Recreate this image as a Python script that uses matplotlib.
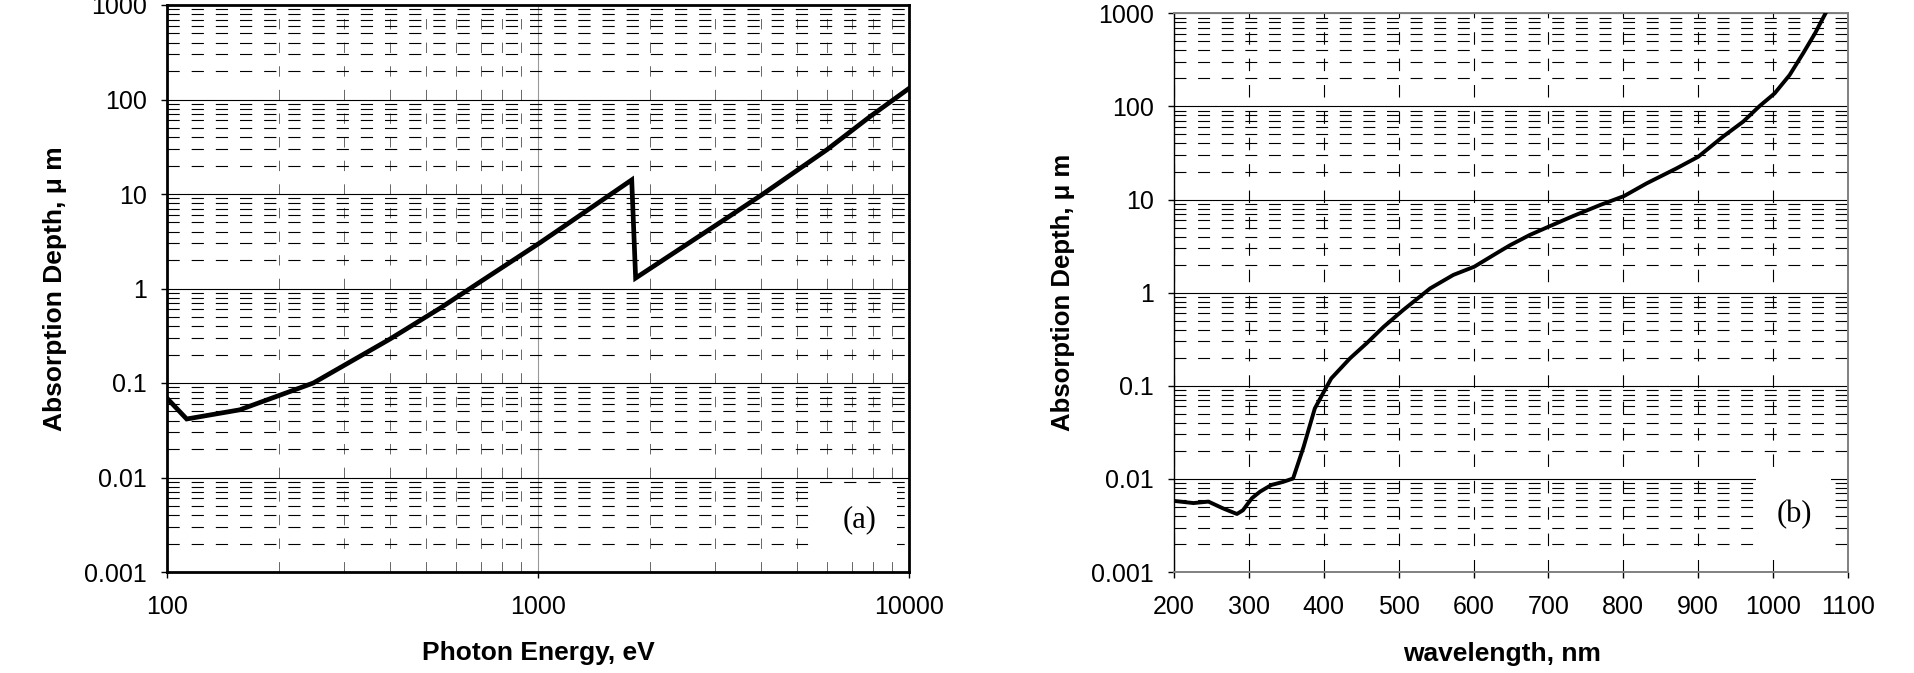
import matplotlib
matplotlib.use("Agg")
import matplotlib.pyplot as plt
from matplotlib.ticker import LogLocator, FixedLocator, FuncFormatter, NullFormatter
from matplotlib.patches import Rectangle

plt.rcParams['lines.scale_dashes'] = False
plt.rcParams['font.family'] = ['Liberation Sans', 'DejaVu Sans']

# ---------------- data ----------------
energy_eV = [100, 113, 157, 248, 398, 545, 713, 1010, 1789, 1833, 3226, 4010, 6000, 7850, 10000]
depth_a = [0.069, 0.0416, 0.052, 0.100, 0.29, 0.62, 1.24, 3.03, 14.1, 1.29, 5.56, 9.8, 29.3, 65.9, 131]

wavelength_nm = [200, 217, 226, 246, 266, 284, 292, 304, 315, 330, 346, 359, 373, 388, 399, 410,
                 435, 457, 480, 506, 542, 573, 601, 634, 649, 675, 700, 733, 769, 801, 831, 871,
                 900, 933, 960, 982, 1002, 1022, 1040, 1056, 1070]
depth_b = [0.0058, 0.0056, 0.0055, 0.0057, 0.0048, 0.0042, 0.0046, 0.0062, 0.0073, 0.0086, 0.0093,
           0.0101, 0.022, 0.057, 0.083, 0.12, 0.197, 0.285, 0.43, 0.65, 1.11, 1.55, 1.90, 2.75,
           3.24, 4.16, 5.1, 6.65, 8.73, 10.9, 14.9, 21.6, 28.8, 47.3, 68.6, 101, 138, 217, 371,
           610, 1000]

y_ticks = [0.001, 0.01, 0.1, 1, 10, 100, 1000]
x_ticks_a = [100, 1000, 10000]
x_ticks_b = [200, 300, 400, 500, 600, 700, 800, 900, 1000, 1100]

ylabel = "Absorption Depth, \u03bc m"
xlabel_a = "Photon Energy, eV"
xlabel_b = "wavelength, nm"

W, H = 1915, 673
fig = plt.figure(figsize=(W / 100, H / 100), dpi=100)

fmt = FuncFormatter(lambda v, p: "%g" % v)
hdash = (0, (8.8, 8.6))

# ---------------- panel (a) ----------------
ax = fig.add_axes([167 / W, (H - 572) / H, 742 / W, 567 / H])
ax.set_xscale('log')
ax.set_yscale('log')
ax.set_xlim(100, 10000)
ax.set_ylim(0.001, 1000)
ax.yaxis.set_major_locator(FixedLocator(y_ticks))
ax.yaxis.set_minor_locator(LogLocator(base=10, subs=range(2, 10), numticks=20))
ax.xaxis.set_major_locator(FixedLocator(x_ticks_a))
ax.xaxis.set_minor_locator(LogLocator(base=10, subs=range(2, 10), numticks=20))
ax.yaxis.set_major_formatter(fmt)
ax.xaxis.set_major_formatter(fmt)
ax.xaxis.set_minor_formatter(NullFormatter())
ax.yaxis.set_minor_formatter(NullFormatter())

ax.grid(which='major', axis='y', color='black', lw=0.8, ls='-')
ax.grid(which='minor', axis='y', color='black', lw=0.8, ls=hdash)
ax.grid(which='major', axis='x', color='#999999', lw=0.8, ls='-')
ax.grid(which='minor', axis='x', color='#666666', lw=0.7, ls=(0, (7.5, 9.5)))

for s in ax.spines.values():
    s.set_linewidth(2.0)
    s.set_color('black')
ax.tick_params(which='major', direction='out', length=4.5, width=1, labelsize=18, pad=10)
ax.tick_params(axis='x', which='major', pad=12)
ax.tick_params(which='minor', length=0)

ax.plot(energy_eV, depth_a, color='black', lw=3.4, zorder=4, solid_joinstyle='miter')

ax.add_patch(Rectangle((0.880, 0.034), 0.104, 0.121, transform=ax.transAxes,
                       facecolor='white', edgecolor='none', zorder=1.8))
ax.text(0.933, 0.093, "(a)", transform=ax.transAxes, ha='center', va='center',
        fontsize=22, family=['Liberation Serif', 'DejaVu Serif'], zorder=3)

ax.set_xlabel(xlabel_a, fontsize=19, fontweight='bold', va='center')
ax.set_ylabel(ylabel, fontsize=19, fontweight='bold', va='center')
ax.xaxis.set_label_coords(0.5, -0.1437)
ax.yaxis.set_label_coords(-0.1509, 0.5)

# ---------------- panel (b) ----------------
bx = fig.add_axes([1174 / W, (H - 572) / H, 674 / W, 558.7 / H])
bx.set_yscale('log')
bx.set_xlim(200, 1100)
bx.set_ylim(0.001, 1000)
bx.yaxis.set_major_locator(FixedLocator(y_ticks))
bx.yaxis.set_minor_locator(LogLocator(base=10, subs=range(2, 10), numticks=20))
bx.xaxis.set_major_locator(FixedLocator(x_ticks_b))
bx.yaxis.set_major_formatter(fmt)
bx.yaxis.set_minor_formatter(NullFormatter())

bx.grid(which='major', axis='y', color='black', lw=0.8, ls='-')
bx.grid(which='minor', axis='y', color='black', lw=0.8, ls=(0, (8.6, 8.4)))
bx.grid(which='major', axis='x', color='black', lw=0.8, ls=(0, (9, 10)))

for name, s in bx.spines.items():
    s.set_linewidth(1.4)
    s.set_color('#808080')
bx.spines['left'].set_color('black')
bx.spines['left'].set_linewidth(1.0)
bx.tick_params(which='major', direction='out', length=4.5, width=1, labelsize=18, pad=10)
bx.tick_params(axis='x', which='major', pad=12)
bx.tick_params(which='minor', length=0)

bx.plot(wavelength_nm, depth_b, color='black', lw=2.8, zorder=4)

bx.add_patch(Rectangle((0.8635, 0.0447), 0.1115, 0.138, transform=bx.transAxes,
                       facecolor='white', edgecolor='none', zorder=1.8))
bx.text(0.920, 0.103, "(b)", transform=bx.transAxes, ha='center', va='center',
        fontsize=22, family=['Liberation Serif', 'DejaVu Serif'], zorder=3)

bx.set_xlabel(xlabel_b, fontsize=19, fontweight='bold', va='center')
bx.set_ylabel(ylabel, fontsize=18.5, fontweight='bold', va='center')
bx.xaxis.set_label_coords(0.487, -0.1459)
bx.yaxis.set_label_coords(-0.1647, 0.5)

fig.savefig("out.png", dpi=100, facecolor='white')
